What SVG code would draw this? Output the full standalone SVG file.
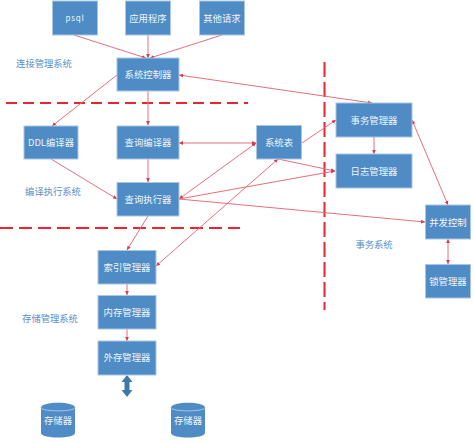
<svg xmlns="http://www.w3.org/2000/svg" width="474" height="443" viewBox="0 0 474 443">
<style>
.b{fill:#4f8cc5;stroke:#a9c6e2;stroke-width:1}
.t{font-family:"Noto Sans CJK SC","Liberation Sans",sans-serif;font-size:9.400px;fill:#eef4fa;text-anchor:middle}
.l{font-family:"Noto Sans CJK SC","Liberation Sans",sans-serif;font-size:9.300px;fill:#5a8fc6;text-anchor:middle}
.c{fill:none;stroke:#e66f7c;stroke-width:1;marker-end:url(#a)}
.d{marker-start:url(#s)}
.r{fill:none;stroke:#ea2433;stroke-width:2}
</style>
<defs>
<marker id="a" markerUnits="userSpaceOnUse" markerWidth="5" markerHeight="5" refX="4" refY="2.500" orient="auto"><path d="M0 .6L4 2.500L0 4.400Z" fill="#d93a4c"/></marker>
<marker id="s" markerUnits="userSpaceOnUse" markerWidth="5" markerHeight="5" refX="0" refY="2.500" orient="auto"><path d="M4 .6L0 2.500L4 4.400Z" fill="#d93a4c"/></marker>
</defs>
<rect width="474" height="443" fill="#fff"/>
<g id="boundaries">
<path class="r" d="M6 103H248" stroke-dasharray="11 6"/>
<path class="r" d="M0 228H240" stroke-dasharray="13 6"/>
<path class="r" d="M324.500 62V310" stroke-dasharray="15 5"/>
</g>
<g id="connectors">
<path class="c" d="M74 35L146 58"/>
<path class="c" d="M148 35V58"/>
<path class="c" d="M222 35L150 58"/>
<path class="c" d="M117 75L52 126"/>
<path class="c" d="M148 91V125"/>
<path class="c" d="M148 159V182"/>
<path class="c" d="M51 159L117 199"/>
<path class="c d" d="M179 75L372 103"/>
<path class="c d" d="M179 143H256"/>
<path class="c d" d="M179 199L256 143"/>
<path class="c" d="M179 199L335 171"/>
<path class="c" d="M179 199L425 222"/>
<path class="c d" d="M156 266L278 159"/>
<path class="c" d="M278 159L335 171"/>
<path class="c" d="M302 143L336 120"/>
<path class="c" d="M374 137V154"/>
<path class="c d" d="M412 120L448 205"/>
<path class="c d" d="M448 239V264"/>
<path class="c" d="M148 216L127 250"/>
<path class="c" d="M127 284V295"/>
<path class="c" d="M127 329V341"/>
<path d="M127 375L132.500 382H129.500V390H132.500L127 397L121.500 390H124.500V382H121.500Z" fill="#4278a8"/>
</g>
<g id="n-psql"><rect class="b" x="52.500" y="1" width="45" height="34"/><text class="t" x="75" y="21" style="font-size:8px;letter-spacing:.8px">psql</text></g>
<g id="n-app"><rect class="b" x="125.500" y="1" width="45" height="34"/><text class="t" x="148" y="21.500">应用程序</text></g>
<g id="n-other"><rect class="b" x="199.500" y="1" width="45" height="34"/><text class="t" x="222" y="21.500">其他请求</text></g>
<g id="n-ctrl"><rect class="b" x="117" y="58" width="62" height="33"/><text class="t" x="148" y="78">系统控制器</text></g>
<g id="n-ddl"><rect class="b" x="24" y="126" width="54" height="33"/><text class="t" x="51" y="146">DDL编译器</text></g>
<g id="n-compile"><rect class="b" x="117" y="126" width="62" height="33"/><text class="t" x="148" y="146">查询编译器</text></g>
<g id="n-exec"><rect class="b" x="117" y="182.500" width="62" height="33.500"/><text class="t" x="148" y="203">查询执行器</text></g>
<g id="n-index"><rect class="b" x="98" y="250.500" width="58" height="33.500"/><text class="t" x="127" y="271">索引管理器</text></g>
<g id="n-mem"><rect class="b" x="98" y="295.500" width="58" height="33.500"/><text class="t" x="127" y="316">内存管理器</text></g>
<g id="n-ext"><rect class="b" x="98" y="341" width="58" height="34"/><text class="t" x="127" y="361">外存管理器</text></g>
<g id="n-systable"><rect class="b" x="256.500" y="125.500" width="45" height="33.500"/><text class="t" x="279" y="146">系统表</text></g>
<g id="n-tx"><rect class="b" x="336" y="103" width="76" height="34"/><text class="t" x="374" y="123.500">事务管理器</text></g>
<g id="n-log"><rect class="b" x="336" y="154" width="76" height="34"/><text class="t" x="374" y="174.500">日志管理器</text></g>
<g id="n-conc"><rect class="b" x="425.500" y="205" width="45" height="34"/><text class="t" x="448" y="225.500">并发控制</text></g>
<g id="n-lock"><rect class="b" x="425.500" y="264.500" width="45" height="33.500"/><text class="t" x="448" y="285">锁管理器</text></g>
<g id="n-store1"><path d="M41 407.500C41 401 75 401 75 407.500V433C75 439 41 439 41 433Z" fill="#4f8cc5"/><path d="M41 407.500C41 412 75 412 75 407.500" fill="none" stroke="#a9c6e2"/><text class="t" x="58" y="423.500">存储器</text></g>
<g id="n-store2"><path d="M171 407.500C171 401 205 401 205 407.500V433C205 439 171 439 171 433Z" fill="#4f8cc5"/><path d="M171 407.500C171 412 205 412 205 407.500" fill="none" stroke="#a9c6e2"/><text class="t" x="188" y="423.500">存储器</text></g>
<g id="labels">
<text class="l" x="44" y="67">连接管理系统</text>
<text class="l" x="53" y="194.500">编译执行系统</text>
<text class="l" x="50" y="321.500">存储管理系统</text>
<text class="l" x="374" y="247.500">事务系统</text>
</g>
</svg>
